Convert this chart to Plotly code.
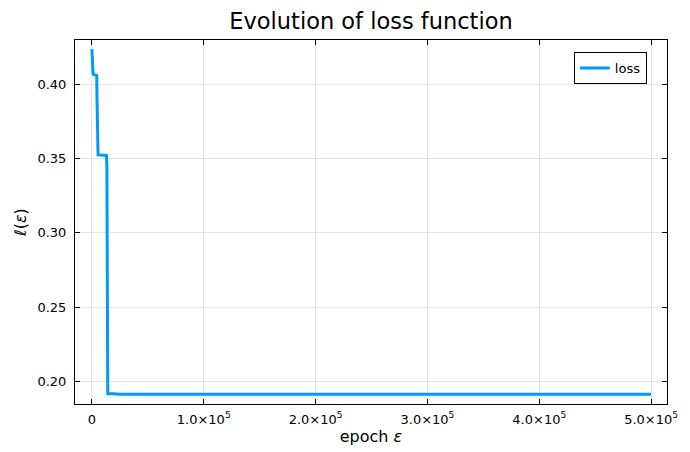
import plotly.graph_objects as go

# loss curve (epoch, loss)
epochs = [0, 250, 600, 1000, 1600, 2500, 3500, 4300, 4600, 5000, 5500, 8000, 11000,
          13000, 13400, 13800, 14200, 20000, 24000, 40000, 60000, 90000, 120000,
          150000, 180000, 210000, 240000, 270000, 300000, 330000, 360000, 390000,
          420000, 450000, 480000, 500000]
loss = [0.4235, 0.4180, 0.4110, 0.4075, 0.4062, 0.4060, 0.4060, 0.4058, 0.3900,
        0.3540, 0.3524, 0.3522, 0.3522, 0.3520, 0.3450, 0.2600, 0.1917, 0.1917,
        0.1914, 0.1914, 0.1913, 0.1914, 0.1913, 0.1914, 0.1913, 0.1914, 0.1913,
        0.1914, 0.1913, 0.1914, 0.1913, 0.1914, 0.1913, 0.1914, 0.1913, 0.1913]

xtick_vals = [0, 100000, 200000, 300000, 400000, 500000]
xtick_text = ["0", "1.0×10<sup>5</sup>", "2.0×10<sup>5</sup>", "3.0×10<sup>5</sup>",
              "4.0×10<sup>5</sup>", "5.0×10<sup>5</sup>"]
ytick_vals = [0.20, 0.25, 0.30, 0.35, 0.40]
ytick_text = ["0.20", "0.25", "0.30", "0.35", "0.40"]

fig = go.Figure()
fig.add_trace(go.Scatter(x=epochs, y=loss, mode="lines", name="loss",
                         line=dict(color="#009AFA", width=3)))

axis_common = dict(showline=True, linecolor="black", linewidth=1, mirror="allticks",
                   ticks="inside", ticklen=5, tickcolor="black",
                   showgrid=True, gridcolor="rgba(0,0,0,0.1)", gridwidth=1,
                   zeroline=False, tickfont=dict(size=13, color="black"))

# page body has an 8px margin, so the figure is a bit smaller than the window
fig.update_layout(
    width=682, height=444,
    paper_bgcolor="white", plot_bgcolor="white",
    font=dict(family="DejaVu Sans", color="black"),
    title=dict(text="Evolution of loss function", xref="paper", x=0.5, xanchor="center",
               y=0.971, yanchor="middle", font=dict(size=22.5)),
    margin=dict(l=66, r=19, t=32, b=48),
    showlegend=True,
    legend=dict(x=0.966, y=0.967, xanchor="right", yanchor="top",
                bordercolor="black", borderwidth=1, bgcolor="white",
                font=dict(size=13)),
    xaxis=dict(range=[-15100, 514200], tickvals=xtick_vals, ticktext=xtick_text,
               ticklabelstandoff=3,
               title=dict(text="epoch <i>ε</i>", font=dict(size=16), standoff=2),
               **axis_common),
    yaxis=dict(range=[0.1848, 0.4296], tickvals=ytick_vals, ticktext=ytick_text,
               ticklabelstandoff=5,
               title=dict(text="ℓ(<i>ε</i>)", font=dict(size=16), standoff=6),
               **axis_common),
)

fig.write_html("out.html")
